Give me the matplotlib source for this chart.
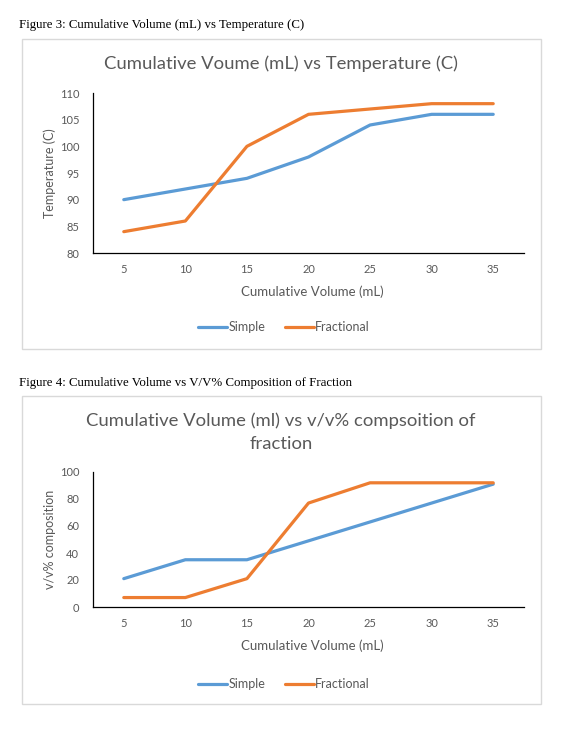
import matplotlib
matplotlib.use('Agg')
import matplotlib.pyplot as plt
from matplotlib.patches import Rectangle

# 数値は図から読み取り
volume = ['5', '10', '15', '20', '25', '30', '35']
temp_simple = [90, 92, 94, 98, 104, 106, 106]
temp_fractional = [84, 86, 100, 106, 107, 108, 108]
comp_simple = [21, 35, 35, 49, 63, 77, 91]
comp_fractional = [7, 7, 21, 77, 92, 92, 92]

W, H = 582, 741
BLUE = '#5B9BD5'
ORANGE = '#ED7D31'
GRAY = '#595959'
FONT = 'Lato'


def fx(px):
    return px / W


def fy(py):
    return 1 - py / H


def add_box(fig, x0, y0, x1, y1):
    fig.patches.append(Rectangle((fx(x0), fy(y1)), fx(x1 - x0), (y1 - y0) / H,
                                 transform=fig.transFigure, fill=False,
                                 edgecolor='#D9D9D9', linewidth=1.0))


def draw_chart(fig, rect_px, simple, fractional, ylim, yticks, ylabel,
               title, title_y, xlabel_y, legend_y):
    left, top, right, bottom = rect_px
    ax = fig.add_axes([fx(left), fy(bottom), fx(right - left), (bottom - top) / H])
    pos = list(range(len(volume)))
    ax.plot(pos, simple, color=BLUE, linewidth=2.3, label='Simple',
            solid_capstyle='round')
    ax.plot(pos, fractional, color=ORANGE, linewidth=2.3, label='Fractional',
            solid_capstyle='round')
    ax.set_xlim(-0.5, len(volume) - 0.5)
    ax.set_ylim(*ylim)
    ax.set_yticks(yticks)
    ax.set_xticks(pos)
    ax.set_xticklabels(volume)
    ax.tick_params(length=0, labelsize=8, colors=GRAY, pad=8)
    ax.tick_params(axis='y', pad=10)
    for s in ['top', 'right']:
        ax.spines[s].set_visible(False)
    for s in ['left', 'bottom']:
        ax.spines[s].set_color('black')
        ax.spines[s].set_linewidth(0.9)
    ax.set_ylabel(ylabel, fontsize=9, color=GRAY, family=FONT)
    ax.yaxis.set_label_coords((56 - left) / (right - left), 0.5)
    for lab in ax.get_xticklabels() + ax.get_yticklabels():
        lab.set_family(FONT)

    fig.text(fx(281), fy(title_y), title, ha='center', va='center',
             fontsize=13.3, color=GRAY, family=FONT, linespacing=1.5)
    fig.text(fx(312), fy(xlabel_y), 'Cumulative Volume (mL)', ha='center',
             va='center', fontsize=9.5, color=GRAY, family=FONT)
    handles, labels = ax.get_legend_handles_labels()
    fig.legend(handles, labels, loc='center', bbox_to_anchor=(fx(284), fy(legend_y)),
               ncol=2, frameon=False, handlelength=2.3, handletextpad=0.1,
               columnspacing=1.6, prop={'family': FONT, 'size': 9},
               labelcolor=GRAY)
    return ax


fig = plt.figure(figsize=(W / 100, H / 100), dpi=100)

fig.text(fx(19), fy(25), 'Figure 3: Cumulative Volume (mL) vs Temperature (C)',
         ha='left', va='center', fontsize=9.3, family='Liberation Serif', color='black')
add_box(fig, 22, 39, 541, 349)
draw_chart(fig, (93, 93, 524, 253), temp_simple, temp_fractional,
           (80, 110), [80, 85, 90, 95, 100, 105, 110], 'Temperature (C)',
           'Cumulative Voume (mL) vs Temperature (C)', 64, 292, 327)

fig.text(fx(19), fy(383), 'Figure 4: Cumulative Volume vs V/V% Composition of Fraction',
         ha='left', va='center', fontsize=9.3, family='Liberation Serif', color='black')
add_box(fig, 22, 396, 541, 704)
draw_chart(fig, (93, 472, 524, 607), comp_simple, comp_fractional,
           (0, 100), [0, 20, 40, 60, 80, 100], 'v/v% composition',
           'Cumulative Volume (ml) vs v/v% compsoition of\nfraction', 432, 646, 684)

fig.savefig('out.png', dpi=100, facecolor='white')
